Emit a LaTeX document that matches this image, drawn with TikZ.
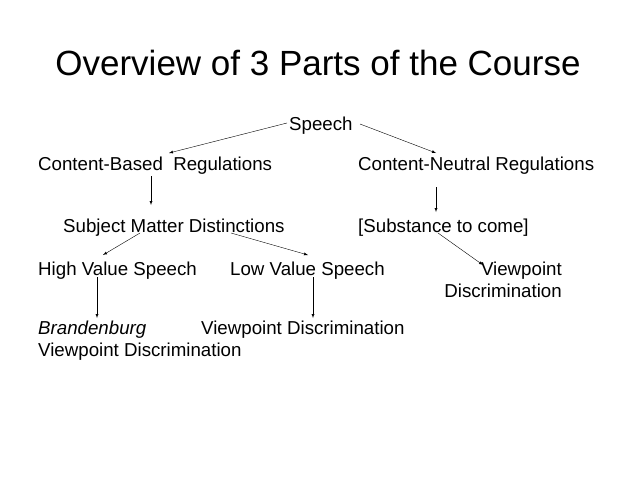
\documentclass[tikz,border=0pt]{standalone}
\usepackage{fontspec}
\setmainfont{Liberation Sans}
\begin{document}
\begin{tikzpicture}[x=1pt,y=-1pt,
  t/.style={anchor=base west,inner sep=0pt,font=\fontsize{18.7}{22}\selectfont},
  te/.style={anchor=base east,inner sep=0pt,font=\fontsize{18.7}{22}\selectfont},
  a/.style={-latex,thin}]
\useasboundingbox (0,0) rectangle (638,479);
\node[anchor=base,inner sep=0pt,font=\fontsize{35}{40}\selectfont] (title) at (318,75) {Overview of 3 Parts of the Course};
\node[t] (sp) at (289,130) {Speech};
\node[t] (cb) at (38,170) {Content-Based\ \ Regulations};
\node[t] (cn) at (358,170) {Content-Neutral Regulations};
\node[t] (sm) at (63,232) {Subject Matter Distinctions};
\node[t] (sub) at (358,232) {[Substance to come]};
\node[t] (hv) at (38,275) {High Value Speech};
\node[t] (lv) at (230,275) {Low Value Speech};
\node[te] (vp) at (562,275) {Viewpoint};
\node[te] (vpb) at (562,297) {Discrimination};
\node[t] (br) at (38,334) {\itshape Brandenburg};
\node[t] (vd1) at (201,334) {Viewpoint Discrimination};
\node[t] (vd2) at (38,356) {Viewpoint Discrimination};
\coordinate (s1) at (287,123); \coordinate (e1) at (169,153);
\coordinate (s2) at (360,124); \coordinate (e2) at (436,153);
\draw[a] (s1) -- (e1);
\draw[a] (s2) -- (e2);
\draw[a] (151,176) coordinate (c1) -- (151,205);
\draw[a] (436,187) coordinate (c2) -- (436,212);
\draw[a] (140,233) coordinate (c3) -- (103,255);
\draw[a] (231,233) coordinate (c4) -- (308,255);
\draw[a] (438,233) coordinate (c5) -- (483,265);
\draw[a] (97,277) coordinate (c6) -- (97,318);
\draw[a] (313,277) coordinate (c7) -- (313,318);
\end{tikzpicture}
\end{document}
